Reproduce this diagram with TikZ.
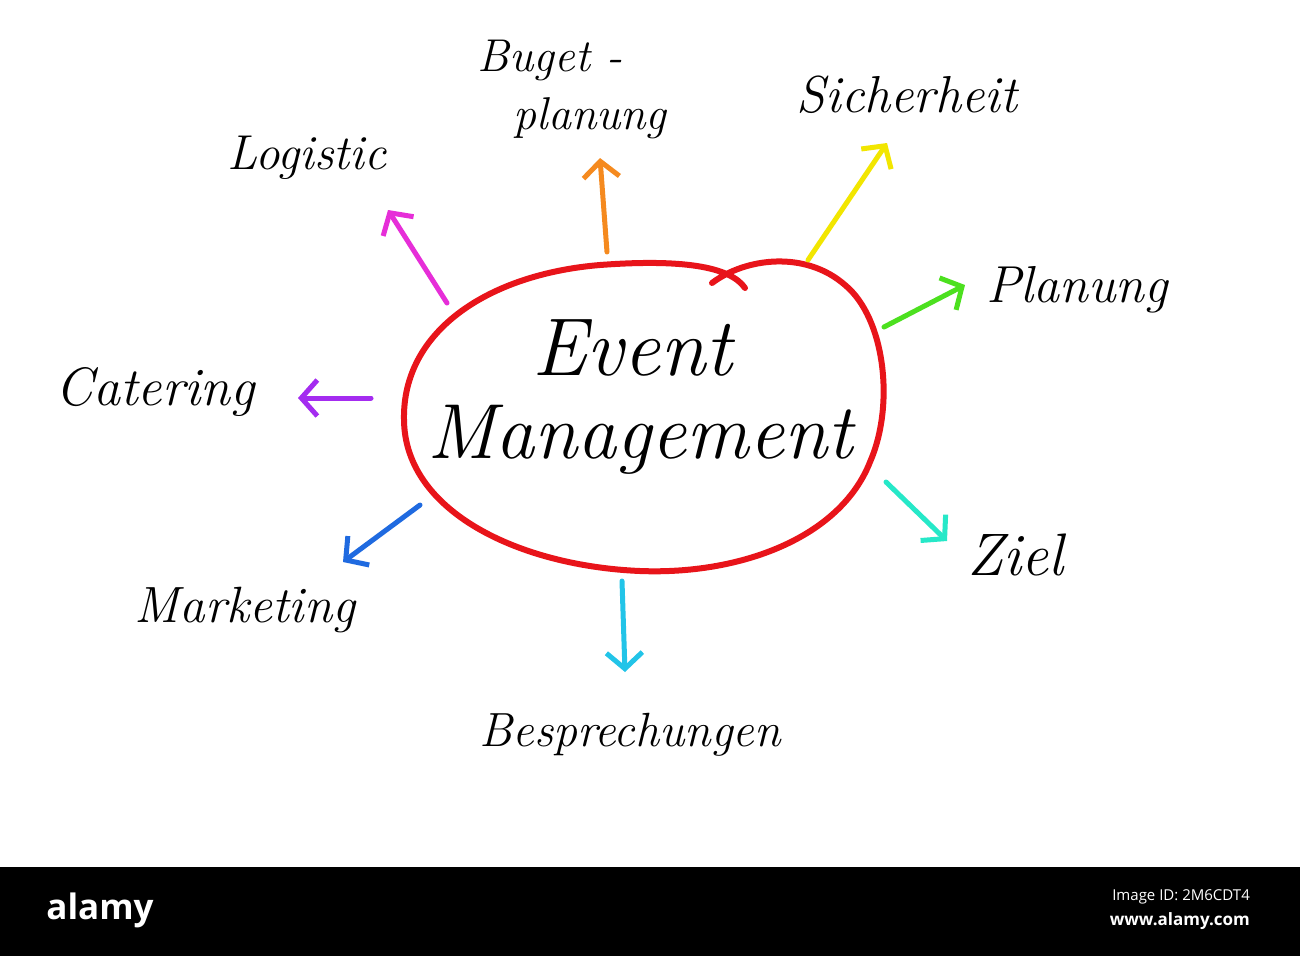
\documentclass[tikz,border=0pt]{standalone}
\usepackage{fontspec}
\newfontfamily\barfont{Open Sans}
\usetikzlibrary{arrows.meta}
\definecolor{cmag}{HTML}{E62ED8}
\definecolor{corange}{HTML}{F58A1F}
\definecolor{cyellow}{HTML}{F2E600}
\definecolor{cgreen}{HTML}{4CE01F}
\definecolor{cpurple}{HTML}{A42CF0}
\definecolor{cteal}{HTML}{26E8C8}
\definecolor{ccyan}{HTML}{22C4E8}
\definecolor{cblue}{HTML}{1F6AE0}
\definecolor{cred}{HTML}{E8141A}
\tikzset{
  arr/.style={line width=5pt, line cap=round, line join=round,
    -{Straight Barb[length=16pt,width=36pt,line width=5pt]}},
  lbl/.style={inner sep=0pt, font=\fontsize{#1}{#1}\selectfont\itshape, text=black},
  lbl/.default=46
}
\begin{document}
\begin{tikzpicture}[x=1pt,y=-1pt]
\useasboundingbox (0,0) rectangle (1300,956);
\fill[white] (0,0) rectangle (1300,867);
% bottom bar
\fill[black] (0,867) rectangle (1300,956);
\node[inner sep=0pt, text=white, font=\barfont\bfseries\fontsize{35}{35}\selectfont] (logo) at (100,910) {alamy};
\node[inner sep=0pt, text=white, anchor=east, font=\barfont\fontsize{15}{15}\selectfont] (imgid) at (1250,897) {Image ID: 2M6CDT4};
\node[inner sep=0pt, text=white, anchor=east, font=\barfont\bfseries\fontsize{17}{17}\selectfont] (www) at (1250,921) {www.alamy.com};
% central loop
\draw[cred, line width=6pt, line cap=round]
  (712,283) .. controls (745,258) and (805,250) .. (845,285)
  .. controls (885,318) and (895,405) .. (870,462)
  .. controls (840,538) and (740,575) .. (640,571)
  .. controls (520,566) and (405,512) .. (404,420)
  .. controls (402,330) and (490,274) .. (600,265)
  .. controls (680,259) and (730,266) .. (745,288);
\node[lbl=82] (event) at (632,348) {Event};
\node[lbl=78] (mgmt) at (640,440) {Management};
% labels
\node[lbl=49] (logistic) at (307,158) {Logistic};
\node[lbl=46] (buget) at (550,60) {Buget -};
\node[lbl=46] (planung1) at (590,118) {planung};
\node[lbl=52] (sicher) at (907,95) {Sicherheit};
\node[lbl=52] (planung2) at (1077,290) {Planung};
\node[lbl=54] (catering) at (155,392) {Catering};
\node[lbl=60] (ziel) at (1015,555) {Ziel};
\node[lbl=51] (marketing) at (245,610) {Marketing};
\node[lbl=48] (bespr) at (630,735) {Besprechungen};
% arrow ends
\coordinate (a1s) at (447,303); \coordinate (a1e) at (388,210);
\coordinate (a2s) at (607,252); \coordinate (a2e) at (600,158);
\coordinate (a3s) at (808,260); \coordinate (a3e) at (887,143);
\coordinate (a4s) at (884,327); \coordinate (a4e) at (965,285);
\coordinate (a5s) at (371,398); \coordinate (a5e) at (298,398);
\coordinate (a6s) at (886,482); \coordinate (a6e) at (947,541);
\coordinate (a7s) at (622,581); \coordinate (a7e) at (625,672);
\coordinate (a8s) at (420,505); \coordinate (a8e) at (343,562);
\draw[arr, cmag] (a1s) -- (a1e);
\draw[arr, corange] (a2s) -- (a2e);
\draw[arr, cyellow] (a3s) -- (a3e);
\draw[arr, cgreen] (a4s) -- (a4e);
\draw[arr, cpurple] (a5s) -- (a5e);
\draw[arr, cteal] (a6s) -- (a6e);
\draw[arr, ccyan] (a7s) -- (a7e);
\draw[arr, cblue] (a8s) -- (a8e);
\end{tikzpicture}
\end{document}
